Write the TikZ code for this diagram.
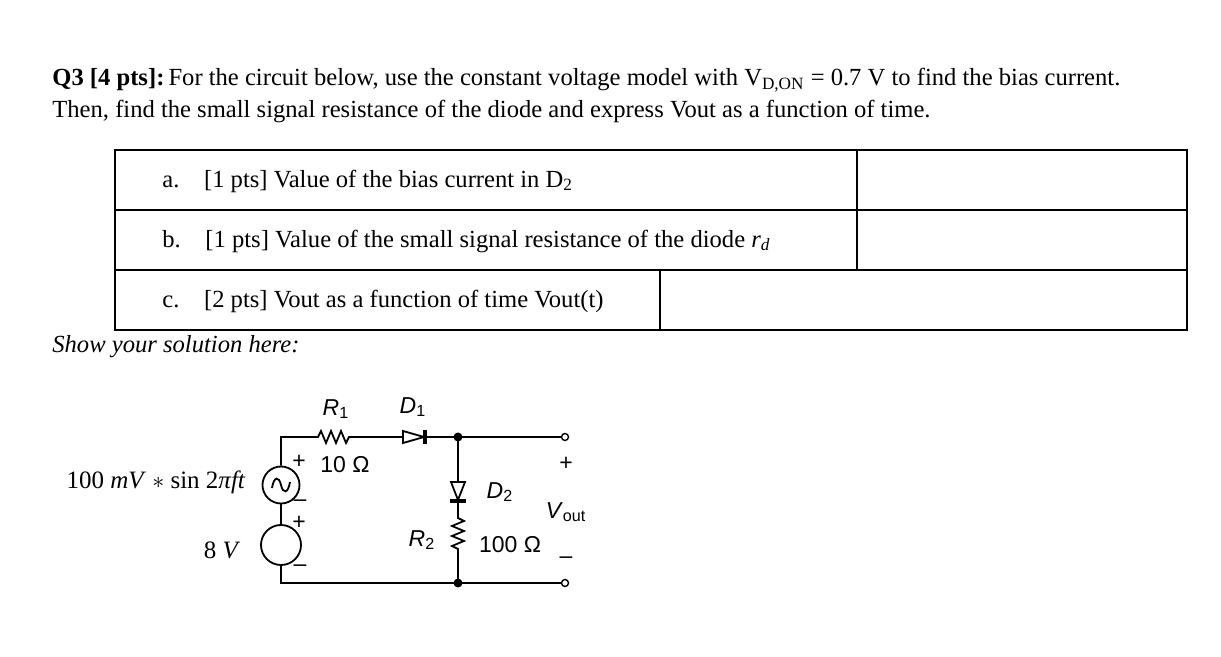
\documentclass[tikz,border=0pt]{standalone}
\usepackage{fontspec}
\setmainfont{Liberation Serif}
\setsansfont{Liberation Sans}
\usetikzlibrary{calc}
\begin{document}
\begin{tikzpicture}[x=0.5pt,y=-0.5pt,
  txt/.style={anchor=west,inner sep=0pt,font=\fontsize{12.3}{14}\selectfont},
  lab/.style={inner sep=0pt,font=\sffamily\fontsize{11.5}{13}\selectfont},
  wire/.style={line width=0.9pt},
  dot/.style={circle,fill,inner sep=0pt,minimum size=4.5pt},
  term/.style={circle,draw,fill=white,inner sep=0pt,minimum size=3.5pt,line width=0.7pt}]
\useasboundingbox (0,0) rectangle (1221,657);
\node[txt] (t1) at (52,80) {\textbf{Q3 [4 pts]:}\,For the circuit below, use the constant voltage model with V\textsubscript{D,ON} = 0.7 V to find the bias current.};
\node[txt] (t2) at (52,111) {Then, find the small signal resistance of the diode and express Vout as a function of time.};
% table
\draw[line width=0.6pt] (115,150) rectangle (1187,330);
\draw[line width=0.6pt] (115,210) -- (1187,210) (115,270) -- (1187,270);
\draw[line width=0.6pt] (857,150) -- (857,270) (660,270) -- (660,330);
\node[txt] (a) at (162,181) {a.\quad [1 pts] Value of the bias current in D\textsubscript{2}};
\node[txt] (b) at (162,241) {b.\quad [1 pts] Value of the small signal resistance of the diode \textit{r\textsubscript{d}}};
\node[txt] (c) at (162,301) {c.\quad [2 pts] Vout as a function of time Vout(t)};
\node[txt] (s) at (52,347) {\textit{Show your solution here:}};
% circuit
\coordinate (tl) at (281,437);
\coordinate (bl) at (281,583);
\coordinate (J) at (458,437);
\coordinate (JB) at (458,583);
\node[term] (To) at (565,437) {};
\node[term] (Bo) at (565,583) {};
\node[circle,draw,line width=0.9pt,minimum size=18.5pt,inner sep=0pt] (ac) at (281,485) {};
\node[circle,draw,line width=0.9pt,minimum size=20pt,inner sep=0pt] (dc) at (281,545) {};
\draw[wire] (ac.north) -- (tl) -- (318,437) -- ++(3,-6) -- ++(5,12) -- ++(5,-12) -- ++(5,12) -- ++(5,-12) -- ++(5,12) -- ++(3,-6) -- (403,437);
\draw[wire] (403,431) -- (403,443) -- (424,437) -- cycle;
\draw[line width=1.6pt] (425,430) -- (425,444);
\draw[wire] (425,437) -- (J) -- (To);
\draw[wire] (ac.south) -- (dc.north);
\draw[wire] (dc.south) -- (bl) -- (JB) -- (Bo);
\draw[wire] (J) -- (458,482);
\draw[wire] (451,482) -- (465,482) -- (458,500) -- cycle;
\draw[line width=1.6pt] (450,501) -- (466,501);
\draw[wire] (458,501) -- (458,518) -- ++(6,3) -- ++(-12,5) -- ++(12,5) -- ++(-12,5) -- ++(12,5) -- ++(-12,5) -- ++(6,3) -- (JB);
\node[dot] (jd1) at (J) {};
\node[dot] (jd2) at (JB) {};
\draw[line width=0.9pt] (272,488) .. controls (274,476) and (279,476) .. (281,485) .. controls (283,494) and (288,494) .. (290,482);
% labels
\node[lab] (l1) at (299,462) {+};
\node[lab] (l2) at (300,503) {--};
\node[lab] (l3) at (299,523) {+};
\node[lab] (l4) at (300,568) {--};
\node[lab] (r1) at (336,409) {\textit{R}\textsubscript{1}};
\node[lab] (d1) at (413,407) {\textit{D}\textsubscript{1}};
\node[lab] (v1) at (345,465) {10 Ω};
\node[lab] (d2) at (500,492) {\textit{D}\textsubscript{2}};
\node[lab] (r2) at (422,540) {\textit{R}\textsubscript{2}};
\node[lab] (v2) at (510,545) {100 Ω};
\node[lab] (vo) at (566,512) {\textit{V}\textsubscript{out}};
\node[lab] (p) at (566,464) {+};
\node[lab] (m) at (566,560) {--};
\node[inner sep=0pt,font=\fontsize{12.5}{14}\selectfont] (src) at (156,482) {100 \textit{mV} $*$ sin 2\textit{πft}};
\node[inner sep=0pt,font=\fontsize{12.5}{14}\selectfont] (dcl) at (222,550) {8 \textit{V}};
\end{tikzpicture}
\end{document}
